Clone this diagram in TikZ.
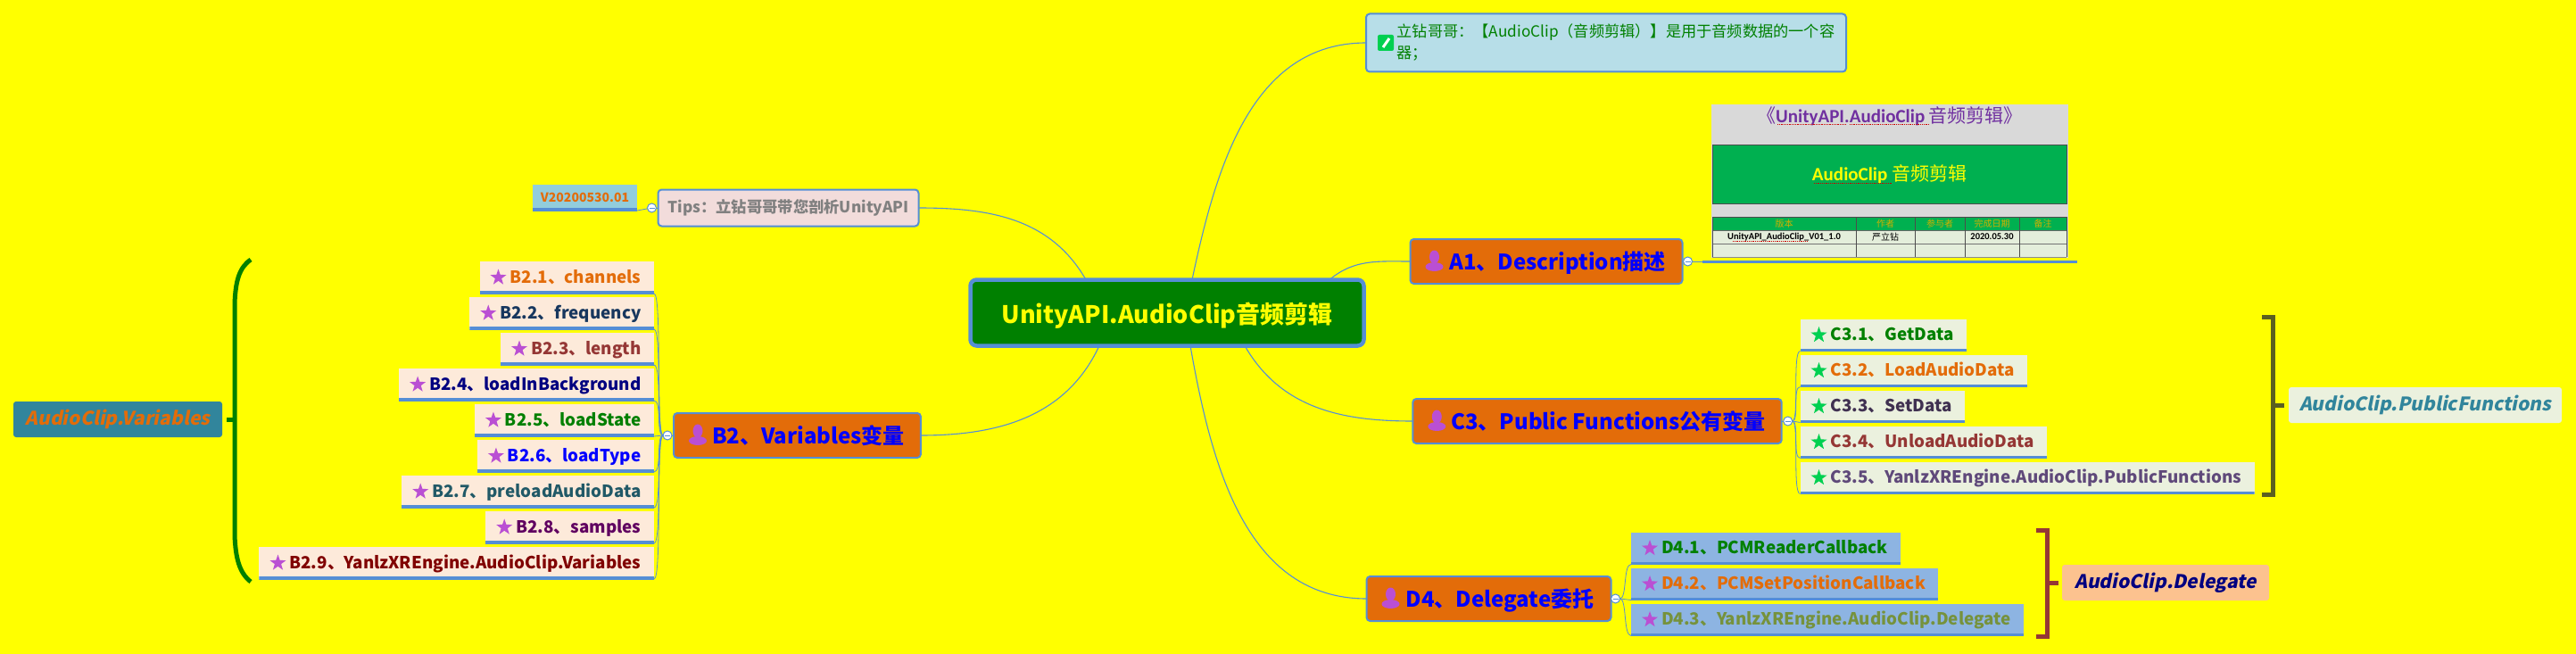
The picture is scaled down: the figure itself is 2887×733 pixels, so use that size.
\documentclass[tikz,border=0pt]{standalone}
\usepackage{fontspec}
\setmainfont{Noto Sans CJK SC}
\newfontfamily\slantfont{Noto Sans CJK SC}[FakeSlant=0.2]
\newfontfamily\sheetfont{Carlito}
\usetikzlibrary{positioning}

\definecolor{paper}{RGB}{255,255,0}
\definecolor{wire}{HTML}{558ED5}
\definecolor{rootgreen}{HTML}{008000}
\definecolor{orangebox}{HTML}{E36C09}
\definecolor{purplemark}{HTML}{BA4FD3}
\definecolor{greenmark}{HTML}{00D050}
\definecolor{fillb}{HTML}{FDEADA}
\definecolor{fillc}{HTML}{EBF1DE}
\definecolor{filld}{HTML}{8DB4E2}
\definecolor{notefill}{HTML}{B7DEE8}
\definecolor{tipsfill}{HTML}{F2DCDB}
\definecolor{verfill}{HTML}{92CDDC}
\definecolor{tealbox}{HTML}{31859C}
\definecolor{peachbox}{HTML}{FCC28F}
\definecolor{navytext}{HTML}{17375E}
\definecolor{brickred}{HTML}{953735}
\definecolor{darknavy}{HTML}{000080}
\definecolor{deepteal}{HTML}{215967}
\definecolor{plumtext}{HTML}{600060}
\definecolor{maroontext}{HTML}{800000}
\definecolor{inktext}{HTML}{403151}
\definecolor{violettext}{HTML}{5F497A}
\definecolor{olivetext}{HTML}{76923C}
\definecolor{olivebrace}{HTML}{5B6020}
\definecolor{sheet}{HTML}{D9D9D9}
\definecolor{sheetgreen}{HTML}{00B050}
\definecolor{sheetrow}{HTML}{E4EEDB}
\definecolor{sheethead}{HTML}{D0B000}
\definecolor{sheettitle}{HTML}{7030A0}
\definecolor{pureblue}{RGB}{0,0,255}
\definecolor{pureyellow}{RGB}{255,255,0}

\tikzset{
  rootbox/.style={draw=wire, line width=4.5pt, rounded corners=7pt, fill=rootgreen,
    text=pureyellow, font=\bfseries\fontsize{27}{30}\selectfont, outer sep=0pt,
    minimum width=441pt, minimum height=74pt, text height=30pt, text depth=6pt},
  branchbox/.style={draw=wire, line width=2pt, rounded corners=4pt, fill=orangebox, text=pureblue,
    font=\bfseries\fontsize{24}{28}\selectfont, outer sep=0pt, minimum height=50pt,
    inner xsep=18pt, text height=24pt, text depth=6pt,
    execute at begin node=\hspace*{25pt},
    path picture={
      \fill[purplemark] ([shift={(27pt,5pt)}]path picture bounding box.west) ellipse (5.5pt and 7.5pt);
      \fill[purplemark] ([shift={(27pt,-6pt)}]path picture bounding box.west) ellipse (10pt and 5pt);
    }},
  leafbox/.style 2 args={fill=#1, outer sep=0pt, inner xsep=14.5pt, inner ysep=8pt,
    font=\bfseries\fontsize{18.8}{24}\selectfont, text height=16pt, text depth=4pt,
    execute at begin node=\hspace*{19.5pt},
    path picture={
      \draw[wire, line width=6pt] (path picture bounding box.south west) -- (path picture bounding box.south east);
      \fill[#2] ([xshift=21pt]path picture bounding box.west) +(90:9.5pt) -- +(126:3.8pt) -- +(162:9.5pt)
        -- +(198:3.8pt) -- +(234:9.5pt) -- +(270:3.8pt) -- +(306:9.5pt) -- +(342:3.8pt) -- +(18:9.5pt)
        -- +(54:3.8pt) -- cycle;
    }},
  leafb/.style={leafbox={fillb}{purplemark}},
  leafc/.style={leafbox={fillc}{greenmark}},
  leafd/.style={leafbox={filld}{purplemark}},
  sumbox/.style={rounded corners=3pt, outer sep=0pt, minimum height=40pt,
    font=\slantfont\bfseries\fontsize{21}{24}\selectfont},
  minusmark/.style={circle, draw=wire, fill=white, line width=1pt, minimum size=10pt, inner sep=0pt,
    outer sep=0pt,
    path picture={\draw[wire, line width=1pt] ([xshift=2pt]path picture bounding box.west)
      -- ([xshift=-2pt]path picture bounding box.east);}},
  branch/.style={wire, line width=1.1pt},
  twig/.style={wire, line width=0.8pt},
  brace/.style={line width=5pt},
  cell/.style={inner sep=0pt, font=\fontsize{10}{11}\selectfont},
  boldcell/.style={inner sep=0pt, font=\sheetfont\bfseries\fontsize{10.5}{11}\selectfont},
  headcell/.style={cell, text=sheethead},
  rule/.style={black!70, line width=0.8pt},
  squiggle/.style={red!80!black, line width=0.8pt, densely dotted}
}

\begin{document}
\begin{tikzpicture}[x=1pt, y=-1pt]
  \fill[paper] (0,0) rectangle (2887,733);
  \useasboundingbox (0,0) rectangle (2887,733);

  % nodes
  \node[rootbox] (root) at (1308,350.5) {UnityAPI.AudioClip音频剪辑};

  \node[draw=wire, line width=2pt, rounded corners=4pt, fill=notefill, outer sep=0pt,
    minimum width=538pt, minimum height=65pt, text=rootgreen, align=left,
    font=\fontsize{17.2}{24}\selectfont] (note) at (1800,48)
    {\hspace*{22pt}立钻哥哥：【AudioClip（音频剪辑）】是用于音频数据的一个容\\\hspace*{22pt}器；};

  \node[draw=wire, line width=2pt, rounded corners=4pt, fill=tipsfill,
    text=black!50, outer sep=0pt, minimum width=292pt, minimum height=41pt,
    font=\bfseries\fontsize{17.3}{22}\selectfont] (tips) at (883.5,233) {Tips：立钻哥哥带您剖析UnityAPI};
  \node[minusmark, left=2pt of tips] (tipsm) {};
  \node[fill=verfill, text=orangebox, outer sep=0pt, minimum width=117pt,
    minimum height=29pt, font=\bfseries\fontsize{14}{16}\selectfont,
    path picture={\draw[wire, line width=6pt] (path picture bounding box.south west)
      -- (path picture bounding box.south east);}] (ver) at (655.5,221.5) {V20200530.01};

  \node[branchbox, minimum width=305pt] (a1) at (1733,293) {A1、Description描述};
  \node[minusmark, right=1pt of a1] (a1m) {};
  \node[branchbox, minimum width=275pt] (b2) at (893.5,488) {B2、Variables变量};
  \node[minusmark, left=2pt of b2] (b2m) {};
  \node[branchbox, minimum width=409pt] (c3) at (1790,472) {C3、Public Functions公有变量};
  \node[minusmark, right=2pt of c3] (c3m) {};
  \node[branchbox, minimum width=274pt] (d4) at (1668.5,671) {D4、Delegate委托};
  \node[minusmark, right=0pt of d4] (d4m) {};

  % variables
  \node[leafb, text=orangebox, anchor=north east] (b21) at (733,293) {B2.1、channels};
  \node[leafb, text=navytext, below left=4pt and 0pt of b21.south east] (b22) {B2.2、frequency};
  \node[leafb, text=brickred, below left=4pt and 0pt of b22.south east] (b23) {B2.3、length};
  \node[leafb, text=darknavy, below left=4pt and 0pt of b23.south east] (b24) {B2.4、loadInBackground};
  \node[leafb, text=rootgreen, below left=4pt and 0pt of b24.south east] (b25) {B2.5、loadState};
  \node[leafb, text=pureblue, below left=4pt and 0pt of b25.south east] (b26) {B2.6、loadType};
  \node[leafb, text=deepteal, below left=4pt and 0pt of b26.south east] (b27) {B2.7、preloadAudioData};
  \node[leafb, text=plumtext, below left=4pt and 0pt of b27.south east] (b28) {B2.8、samples};
  \node[leafb, text=maroontext, below left=4pt and 0pt of b28.south east] (b29) {B2.9、YanlzXREngine.AudioClip.Variables};
  \node[sumbox, fill=tealbox, text=orangebox, minimum width=234pt] (varsum) at (132,470) {AudioClip.Variables};

  % functions
  \node[leafc, text=rootgreen, anchor=north west] (c31) at (2017.5,357.5) {C3.1、GetData};
  \node[leafc, text=orangebox, below right=4pt and 0pt of c31.south west] (c32) {C3.2、LoadAudioData};
  \node[leafc, text=inktext, below right=4pt and 0pt of c32.south west] (c33) {C3.3、SetData};
  \node[leafc, text=brickred, below right=4pt and 0pt of c33.south west] (c34) {C3.4、UnloadAudioData};
  \node[leafc, text=violettext, below right=4pt and 0pt of c34.south west] (c35) {C3.5、YanlzXREngine.AudioClip.PublicFunctions};
  \node[sumbox, fill=fillc, text=tealbox, minimum width=306pt] (funcsum) at (2718,454) {AudioClip.PublicFunctions};

  % delegates
  \node[leafd, text=rootgreen, anchor=north west] (d41) at (1828,596.5) {D4.1、PCMReaderCallback};
  \node[leafd, text=orangebox, below right=4pt and 0pt of d41.south west] (d42) {D4.2、PCMSetPositionCallback};
  \node[leafd, text=olivetext, below right=4pt and 0pt of d42.south west] (d43) {D4.3、YanlzXREngine.AudioClip.Delegate};
  \node[sumbox, fill=peachbox, text=darknavy, minimum width=232pt] (delsum) at (2427,653) {AudioClip.Delegate};

  % sheet
  \node[fill=sheet, minimum width=400pt, minimum height=172pt, outer sep=0pt] (sheet) at (2118,203) {};
  \node[fill=sheetgreen, draw=black!70, line width=1pt, minimum width=397pt, minimum height=66pt,
    outer sep=0pt, text=pureyellow, font=\fontsize{21}{22}\selectfont] (banner) at (2117.5,195)
    {{\sheetfont\bfseries AudioClip} 音频剪辑};
  \node[text=sheettitle, inner sep=0pt, font=\fontsize{21}{24}\selectfont] (title) at (2118,130)
    {《{\sheetfont\bfseries UnityAPI.AudioClip} 音频剪辑》};
  \fill[sheetgreen] (1919,243) rectangle (2316,258);
  \fill[sheetrow] (1919,258) rectangle (2316,288);
  \draw[black!70, line width=1pt] (1919,243) -- (2316,243);
  \draw[black!60, line width=1pt] (1919,258) -- (2316,258);
  \draw[black!55, line width=1pt] (1919,273) -- (2316,273);
  \draw[black!45, line width=1pt] (1919,288) -- (2316,288);
  \draw[rule] (1919,243) -- (1919,288);
  \draw[rule] (2080,243) -- (2080,288);
  \draw[rule] (2146,243) -- (2146,288);
  \draw[rule] (2202,243) -- (2202,288);
  \draw[rule] (2263,243) -- (2263,288);
  \draw[rule] (2316,243) -- (2316,288);
  \node[headcell] (h1) at (1999.5,250.5) {版本};
  \node[headcell] (h2) at (2113,250.5) {作者};
  \node[headcell] (h3) at (2174,250.5) {参与者};
  \node[headcell] (h4) at (2232.5,250.5) {完成日期};
  \node[headcell] (h5) at (2289.5,250.5) {备注};
  \node[boldcell] (r1) at (1999.5,265.5) {UnityAPI\_AudioClip\_V01\_1.0};
  \node[cell] (r2) at (2113,265.5) {严立钻};
  \node[boldcell] (r4) at (2232.5,265.5) {2020.05.30};
  \draw[squiggle] (1992,139) -- (2068,139);
  \draw[squiggle] (2073,139) -- (2162,139);
  \draw[squiggle] (2033,205) -- (2120,205);
  \draw[squiggle] (1942,270) -- (2025,270);
  \coordinate (sheetline) at (1908,293);
  \coordinate (sheetend) at (2328,293);

  % note icon
  \fill[greenmark, rounded corners=2pt] (1544,39) rectangle (1562,57);
  \draw[white, line width=3pt] (1550,53) -- (1557,43);

  % edges
  \draw[branch] (tips.east) to[out=0, in=120] ([xshift=-91pt]root.north);
  \draw[branch] (b2.east) to[out=0, in=-115] ([xshift=-76pt]root.south);
  \draw[branch] (note.west) to[out=180, in=78] ([xshift=28pt]root.north);
  \draw[branch] (a1.west) to[out=180, in=40] ([xshift=182pt]root.north);
  \draw[branch] (c3.west) to[out=180, in=-60] ([xshift=87pt]root.south);
  \draw[branch] (d4.west) to[out=180, in=-80] ([xshift=26pt]root.south);

  \draw[twig] (tipsm) -- (tips);
  \draw[twig] (tipsm) -- (ver.south east);
  \draw[twig] (a1m) -- (a1);
  \draw[wire, line width=3pt] (sheetline) -- (sheetend);
  \draw[twig] (a1m) -- (sheetline);
  \draw[twig] (b2m) -- (b2);
  \draw[twig] (c3m) -- (c3);
  \draw[twig] (d4m) -- (d4);

  \draw[twig] (b2m.west) .. controls +(-8,0) and +(9,0) .. (b21.south east);
  \draw[twig] (b2m.west) .. controls +(-8,0) and +(9,0) .. (b22.south east);
  \draw[twig] (b2m.west) .. controls +(-8,0) and +(9,0) .. (b23.south east);
  \draw[twig] (b2m.west) .. controls +(-8,0) and +(9,0) .. (b24.south east);
  \draw[twig] (b2m.west) -- (b25.south east);
  \draw[twig] (b2m.west) .. controls +(-8,0) and +(9,0) .. (b26.south east);
  \draw[twig] (b2m.west) .. controls +(-8,0) and +(9,0) .. (b27.south east);
  \draw[twig] (b2m.west) .. controls +(-8,0) and +(9,0) .. (b28.south east);
  \draw[twig] (b2m.west) .. controls +(-8,0) and +(9,0) .. (b29.south east);

  \draw[twig] (c3m.east) .. controls +(8,0) and +(-9,0) .. (c31.south west);
  \draw[twig] (c3m.east) .. controls +(8,0) and +(-9,0) .. (c32.south west);
  \draw[twig] (c3m.east) -- (c33.south west);
  \draw[twig] (c3m.east) .. controls +(8,0) and +(-9,0) .. (c34.south west);
  \draw[twig] (c3m.east) .. controls +(8,0) and +(-9,0) .. (c35.south west);

  \draw[twig] (d4m.east) .. controls +(8,0) and +(-9,0) .. (d41.south west);
  \draw[twig] (d4m.east) -- (d42.south west);
  \draw[twig] (d4m.east) .. controls +(8,0) and +(-9,0) .. (d43.south west);

  % braces
  \coordinate (varstick) at (254,470);
  \draw[brace, rootgreen] (281,291) .. controls (268,300) and (264,315) .. (263,340)
    -- (263,600) .. controls (264,625) and (268,642) .. (281,652);
  \draw[brace, rootgreen] (varstick) -- (263,470);
  \coordinate (funcstick) at (2560,454);
  \draw[brace, olivebrace] (2535,355.5) -- (2547,355.5) -- (2547,554.5) -- (2535,554.5);
  \draw[brace, olivebrace] (funcstick) -- (2547,454);
  \coordinate (delstick) at (2307,653);
  \draw[brace, brickred] (2282,594.5) -- (2294,594.5) -- (2294,713.5) -- (2282,713.5);
  \draw[brace, brickred] (delstick) -- (2294,653);
\end{tikzpicture}
\end{document}
